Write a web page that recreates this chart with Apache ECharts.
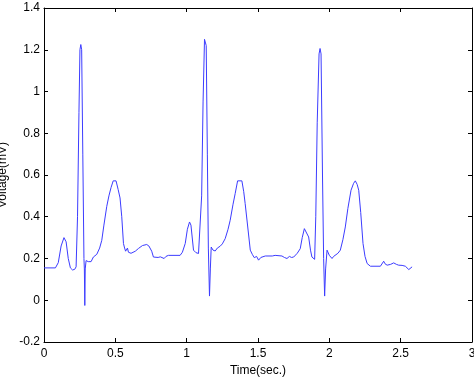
<!DOCTYPE html>
<html>
<head>
<meta charset="utf-8">
<script src="https://cdn.jsdelivr.net/npm/echarts@6/dist/echarts.min.js"></script>
<style>
  html, body { margin: 0; padding: 0; background: #fff; }
  #chart { width: 474px; height: 377px; }
</style>
</head>
<body>
<div id="chart"></div>
<script>
// time (sec.) and voltage (mV)
const timeSec = [
  0, 0.08, 0.10, 0.12, 0.14, 0.155, 0.17, 0.185, 0.20, 0.215, 0.225,
  0.235, 0.245, 0.252, 0.258, 0.264, 0.272, 0.280, 0.283, 0.286, 0.289,
  0.295, 0.300, 0.310, 0.320, 0.330, 0.346, 0.37, 0.39, 0.405, 0.42,
  0.44, 0.455, 0.47, 0.485, 0.505, 0.52, 0.533, 0.545, 0.557, 0.565,
  0.572, 0.58, 0.585, 0.592, 0.60, 0.61, 0.622, 0.64, 0.662, 0.69,
  0.72, 0.735, 0.745, 0.755, 0.767, 0.78, 0.80, 0.815, 0.842, 0.855,
  0.872, 0.954, 0.97, 0.99, 1.005, 1.02, 1.03, 1.048, 1.065, 1.083,
  1.095, 1.105, 1.115, 1.125, 1.131, 1.137, 1.145, 1.152, 1.16, 1.166,
  1.172, 1.185, 1.2, 1.215, 1.235, 1.25, 1.27, 1.29, 1.305, 1.325,
  1.34, 1.357, 1.387, 1.40, 1.41, 1.425, 1.446, 1.46, 1.474, 1.49,
  1.504, 1.52, 1.551, 1.60, 1.62, 1.668, 1.685, 1.703, 1.72, 1.735,
  1.75, 1.775, 1.796, 1.81, 1.825, 1.835, 1.855, 1.868, 1.878, 1.897,
  1.905, 1.915, 1.928, 1.935, 1.942, 1.952, 1.960, 1.967, 1.974, 1.984,
  2.0, 2.019, 2.03, 2.042, 2.06, 2.077, 2.095, 2.112, 2.13, 2.152,
  2.17, 2.182, 2.195, 2.206, 2.22, 2.236, 2.25, 2.265, 2.288, 2.358,
  2.381, 2.39, 2.405, 2.43, 2.451, 2.47, 2.486, 2.51, 2.533, 2.545,
  2.557, 2.57, 2.58
];
const voltage = [
  0.155, 0.155, 0.18, 0.26, 0.30, 0.28, 0.20, 0.155, 0.145, 0.148, 0.16,
  0.40, 0.90, 1.20, 1.225, 1.20, 0.70, 0.20, 0.15, -0.025, 0.15,
  0.19, 0.198, 0.185, 0.178, 0.185, 0.207, 0.22, 0.25, 0.287, 0.36,
  0.45, 0.50, 0.54, 0.572, 0.572, 0.53, 0.49, 0.40, 0.272, 0.25,
  0.235, 0.24, 0.25, 0.23, 0.235, 0.225, 0.224, 0.235, 0.248, 0.262,
  0.267, 0.26, 0.265, 0.235, 0.207, 0.215, 0.205, 0.208, 0.20, 0.21,
  0.215, 0.215, 0.23, 0.272, 0.34, 0.375, 0.36, 0.24, 0.228, 0.224,
  0.23, 0.50, 0.95, 1.25, 1.258, 1.22, 0.70, 0.25, 0.02, 0.15,
  0.255, 0.24, 0.236, 0.25, 0.259, 0.27, 0.295, 0.34, 0.383, 0.46,
  0.511, 0.572, 0.572, 0.52, 0.463, 0.37, 0.24, 0.22, 0.204, 0.21,
  0.192, 0.205, 0.212, 0.212, 0.215, 0.212, 0.205, 0.20, 0.21, 0.205,
  0.207, 0.225, 0.247, 0.30, 0.343, 0.343, 0.303, 0.24, 0.207, 0.196,
  0.40, 0.85, 1.18, 1.206, 1.18, 0.60, 0.20, 0.02, 0.15, 0.24,
  0.215, 0.20, 0.21, 0.219, 0.225, 0.24, 0.29, 0.351, 0.44, 0.527,
  0.56, 0.572, 0.555, 0.527, 0.42, 0.272, 0.21, 0.176, 0.163, 0.163,
  0.187, 0.175, 0.168, 0.172, 0.179, 0.172, 0.168, 0.167, 0.163, 0.155,
  0.147, 0.152, 0.16
];

const chart = echarts.init(document.getElementById('chart'));

const font = 'Liberation Sans, Arial, sans-serif';
const boxAxis = {
  axisLine: { show: true, onZero: false, lineStyle: { color: '#000', width: 1 } },
  axisTick: { show: true, inside: true, length: 4, lineStyle: { color: '#000' } },
  splitLine: { show: false }
};

chart.setOption({
  animation: false,
  backgroundColor: '#fff',
  grid: { left: 44, right: 2, top: 8, bottom: 35, containLabel: false, outerBoundsMode: 'none' },
  xAxis: [
    Object.assign({
      type: 'value', min: 0, max: 3, interval: 0.5, position: 'bottom',
      name: 'Time(sec.)', nameLocation: 'middle', nameGap: 20,
      nameTextStyle: { color: '#000', fontSize: 12, fontFamily: font },
      axisLabel: { color: '#000', fontSize: 12, fontFamily: font, margin: 6 }
    }, boxAxis),
    Object.assign({
      type: 'value', min: 0, max: 3, interval: 0.5, position: 'top',
      axisLabel: { show: false }
    }, boxAxis)
  ],
  yAxis: [
    Object.assign({
      type: 'value', min: -0.2, max: 1.4, interval: 0.2, position: 'left',
      name: 'Voltage(mV)', nameLocation: 'middle', nameGap: 30,
      nameTextStyle: { color: '#000', fontSize: 12, fontFamily: font },
      axisLabel: { color: '#000', fontSize: 12, fontFamily: font, margin: 4 }
    }, boxAxis),
    Object.assign({
      type: 'value', min: -0.2, max: 1.4, interval: 0.2, position: 'right',
      axisLabel: { show: false }
    }, boxAxis)
  ],
  series: [{
    type: 'line',
    data: timeSec.map((t, i) => [t, voltage[i]]),
    showSymbol: false,
    lineStyle: { color: '#3c3cff', width: 1 },
    silent: true
  }]
});

window.addEventListener('resize', () => chart.resize());
</script>
</body>
</html>
